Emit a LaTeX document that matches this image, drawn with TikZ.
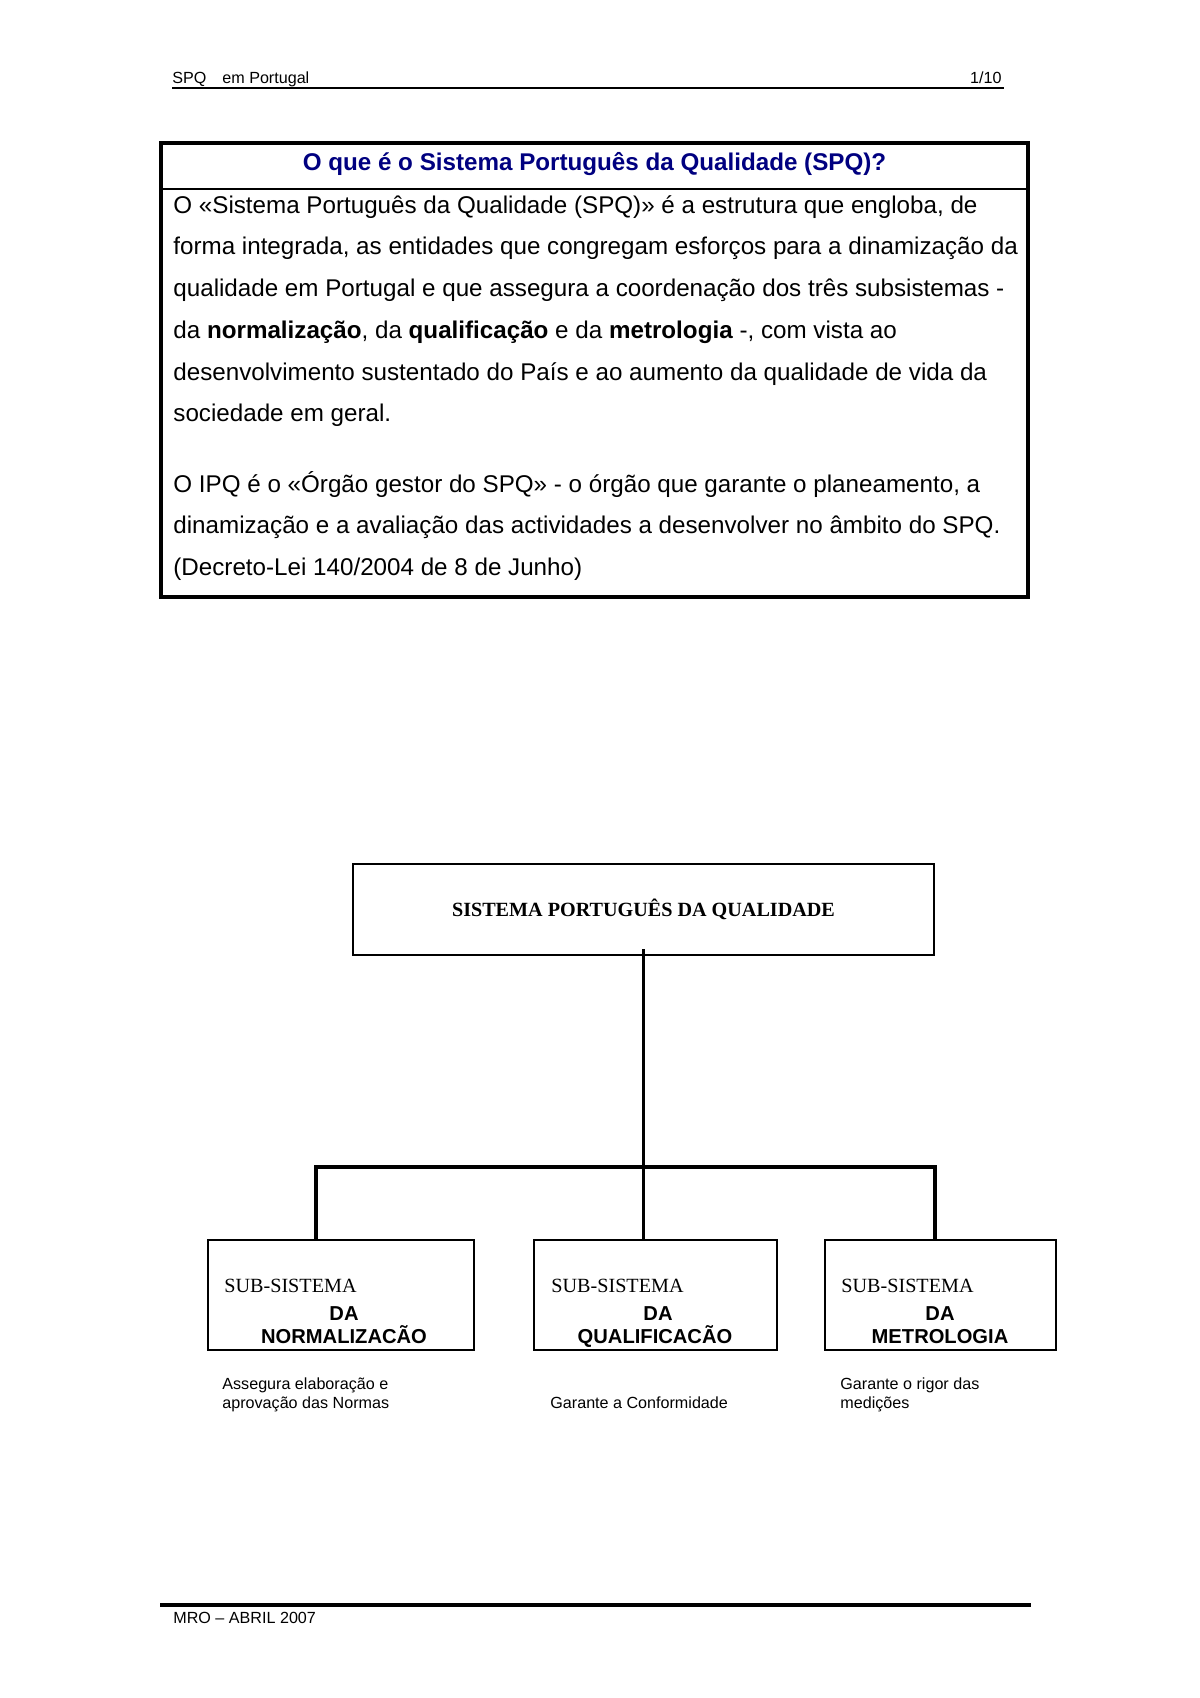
\documentclass[tikz,border=0pt]{standalone}
\usepackage{fontspec}
\setmainfont{Liberation Sans}
\newfontfamily\tnr{Liberation Serif}
\newdimen\pxu
\pxu=0.49607pt
\definecolor{navyblue}{RGB}{0,0,128}
\begin{document}
\begin{tikzpicture}[x=0.49607pt,y=-0.49607pt,
  bodytxt/.style={anchor=base west,inner sep=0pt,font=\fontsize{12}{14}\selectfont},
  smalltxt/.style={anchor=base west,inner sep=0pt,font=\fontsize{8}{10}\selectfont},
  subhead/.style={anchor=base west,inner sep=0pt,font=\tnr\fontsize{10}{12}\selectfont},
  subname/.style={anchor=base,inner sep=0pt,font=\bfseries\fontsize{10}{12}\selectfont},
  subbox/.style={draw=black,line width=1pt,inner sep=0pt,minimum height=110\pxu},
  conn/.style={draw=black,line width=1.9pt},
]
\useasboundingbox[fill=white] (0,0) rectangle (1200,1698);

% header
\node[smalltxt] (hspq) at (172,83) {\underline{SPQ}};
\node[smalltxt] (hem) at (222,83) {em Portugal};
\node[smalltxt,anchor=base east] (hpage) at (1002,83) {1/10};
\coordinate (hl) at (172,88);
\coordinate (hr) at (1004,88);
\draw[line width=0.9pt] (hl) -- (hr);

% framed text box
\coordinate (bTL) at (161,143);
\coordinate (bBR) at (1028,597);
\draw[line width=2.2pt] (bTL) rectangle (bBR);
\coordinate (dL) at (161,189);
\coordinate (dR) at (1028,189);
\draw[line width=0.75pt] (dL) -- (dR);
\node[anchor=base,inner sep=0pt,font=\bfseries\fontsize{12}{14}\selectfont,text=navyblue] (title) at (594.5,170) {O que é o Sistema Português da Qualidade (SPQ)?};

\node[bodytxt] (l1) at (173,213) {O «Sistema Português da Qualidade (SPQ)» é a estrutura que engloba, de};
\node[bodytxt] (l2) at (173,254.75) {forma integrada, as entidades que congregam esforços para a dinamização da};
\node[bodytxt] (l3) at (173,296.5) {qualidade em Portugal e que assegura a coordenação dos três subsistemas -};
\node[bodytxt] (l4) at (173,338.25) {da \textbf{normalização}, da \textbf{qualificação} e da \textbf{metrologia} -, com vista ao};
\node[bodytxt] (l5) at (173,380) {desenvolvimento sustentado do País e ao aumento da qualidade de vida da};
\node[bodytxt] (l6) at (173,421.75) {sociedade em geral.};
\node[bodytxt] (l7) at (173,492) {O IPQ é o «Órgão gestor do SPQ» - o órgão que garante o planeamento, a};
\node[bodytxt] (l8) at (173,533.75) {dinamização e a avaliação das actividades a desenvolver no âmbito do SPQ.};
\node[bodytxt] (l9) at (173,575.5) {(Decreto-Lei 140/2004 de 8 de Junho)};

% diagram
\node[draw=black,line width=1.2pt,inner sep=0pt,minimum width=581\pxu,minimum height=91\pxu,
      font=\tnr\bfseries\fontsize{10}{12}\selectfont] (top) at (643.5,909.5) {SISTEMA PORTUGUÊS DA QUALIDADE};

\node[subbox,minimum width=266\pxu] (box1) at (341,1295) {};
\node[subbox,minimum width=243\pxu] (box2) at (655.5,1295) {};
\node[subbox,minimum width=231\pxu] (box3) at (940.5,1295) {};

\coordinate (jl) at (316,1167);
\coordinate (jr) at (935,1167);
\draw[conn] ([yshift=3.5pt]top.south) -- (top.south |- box2.north);
\draw[conn] (jl |- box1.north) -- (jl) -- (jr) -- (jr |- box3.north);

\node[subhead] (s1) at (224,1292) {SUB-SISTEMA};
\node[subname] (d1) at (344,1320) {DA};
\node[subname] (n1) at (344,1343) {NORMALIZACÃO};
\node[subhead] (s2) at (551,1292) {SUB-SISTEMA};
\node[subname] (d2) at (658,1320) {DA};
\node[subname] (n2) at (655,1343) {QUALIFICACÃO};
\node[subhead] (s3) at (841,1292) {SUB-SISTEMA};
\node[subname] (d3) at (940,1320) {DA};
\node[subname] (n3) at (940,1343) {METROLOGIA};

\node[smalltxt] (c1a) at (222,1389) {Assegura elaboração e};
\node[smalltxt] (c1b) at (222,1408) {aprovação das Normas};
\node[smalltxt] (c2) at (550,1408) {Garante a Conformidade};
\node[smalltxt] (c3a) at (840,1389) {Garante o rigor das};
\node[smalltxt] (c3b) at (840,1408) {medições};

% footer
\coordinate (fl) at (160,1605);
\coordinate (fr) at (1031,1605);
\draw[line width=2pt] (fl) -- (fr);
\node[smalltxt] (foot) at (173,1623) {MRO – ABRIL 2007};
\end{tikzpicture}
\end{document}
